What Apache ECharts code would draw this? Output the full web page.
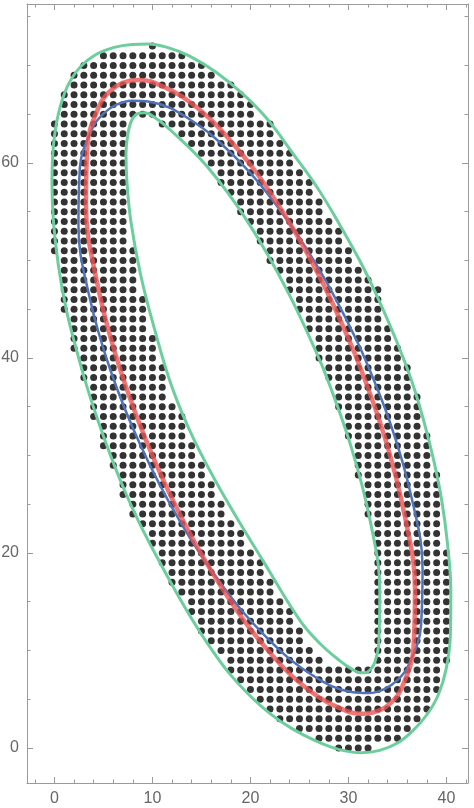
<!DOCTYPE html>
<html>
<head>
<meta charset="utf-8">
<script src="https://cdn.jsdelivr.net/npm/echarts@6/dist/echarts.min.js"></script>
<style>
html, body { margin: 0; padding: 0; background: #fff; }
#chart { width: 474px; height: 808px; }
</style>
</head>
<body>
<div id="chart"></div>
<script>
// lattice rows: [y, xFrom, xTo, (xFrom, xTo)]
const rowSpans = [
    [72, 10, 10],
    [71, 5, 13],
    [70, 3, 15],
    [69, 2, 16],
    [68, 2, 18],
    [67, 1, 19],
    [66, 1, 20],
    [65, 1, 20],
    [64, 0, 7, 11, 22],
    [63, 0, 7, 13, 22],
    [62, 0, 7, 14, 23],
    [61, 0, 7, 15, 24],
    [60, 0, 7, 16, 24],
    [59, 0, 7, 17, 25],
    [58, 0, 7, 17, 26],
    [57, 0, 7, 18, 26],
    [56, 0, 7, 19, 27],
    [55, 0, 7, 19, 27],
    [54, 0, 7, 20, 28],
    [53, 0, 7, 21, 29],
    [52, 0, 7, 21, 29],
    [51, 0, 8, 22, 30],
    [50, 1, 8, 22, 30],
    [49, 1, 8, 23, 31],
    [48, 1, 8, 24, 32],
    [47, 1, 8, 24, 33],
    [46, 1, 9, 25, 33],
    [45, 1, 9, 25, 33],
    [44, 2, 9, 26, 33],
    [43, 2, 9, 26, 34],
    [42, 2, 10, 27, 34],
    [41, 2, 10, 27, 35],
    [40, 3, 10, 27, 35],
    [39, 3, 11, 28, 36],
    [38, 3, 11, 28, 36],
    [37, 4, 11, 29, 36],
    [36, 4, 11, 29, 37],
    [35, 4, 12, 29, 37],
    [34, 4, 13, 30, 37],
    [33, 5, 13, 30, 37],
    [32, 5, 13, 30, 38],
    [31, 5, 14, 31, 38],
    [30, 6, 14, 31, 38],
    [29, 6, 15, 31, 38],
    [28, 7, 15, 31, 39],
    [27, 7, 16, 32, 39],
    [26, 7, 16, 32, 39],
    [25, 8, 17, 32, 39],
    [24, 8, 17, 32, 39],
    [23, 9, 18, 33, 39],
    [22, 10, 19, 33, 39],
    [21, 10, 19, 33, 39],
    [20, 11, 20, 33, 40],
    [19, 11, 21, 33, 40],
    [18, 12, 21, 33, 40],
    [17, 12, 22, 33, 40],
    [16, 13, 22, 33, 40],
    [15, 14, 23, 33, 40],
    [14, 14, 24, 33, 40],
    [13, 15, 24, 33, 40],
    [12, 15, 25, 33, 40],
    [11, 16, 25, 33, 40],
    [10, 17, 26, 33, 40],
    [9, 18, 27, 33, 40],
    [8, 18, 39],
    [7, 19, 39],
    [6, 20, 39],
    [5, 21, 38],
    [4, 22, 38],
    [3, 23, 37],
    [2, 25, 36],
    [1, 27, 35],
    [0, 29, 32]
];

// curves
const outerGreen = [
    [35.0, 41.5], [36.5, 37.5], [37.7, 33.5], [38.7, 29.5], [39.5, 25.5], [40.1, 21.0],
    [40.45, 16.0], [40.4, 11.5], [39.95, 8.0], [39.15, 5.4], [38.0, 3.4], [36.6, 1.8],
    [35.0, 0.5], [33.2, -0.25], [31.3, -0.5], [29.0, -0.15], [26.6, 0.75], [24.2, 2.0],
    [21.9, 3.6], [19.8, 5.5], [17.8, 7.7], [15.9, 10.3], [14.1, 13.1], [12.3, 16.2],
    [10.5, 19.5], [8.8, 22.8], [7.2, 26.3], [5.8, 29.8], [4.5, 33.4], [3.3, 37.1],
    [2.2, 41.0], [1.2, 45.0], [0.4, 49.5], [-0.1, 54.0], [-0.25, 58.0], [-0.1, 61.8],
    [0.4, 65.0], [1.3, 67.8], [2.6, 69.8], [4.2, 71.1], [6.1, 71.85], [7.9, 72.15],
    [9.5, 72.2], [11.5, 71.85], [13.7, 71.0], [16.5, 69.3], [19.3, 67.0], [21.8, 64.4],
    [24.3, 61.0], [26.8, 57.5], [29.2, 53.5], [31.4, 49.5], [33.3, 45.5], [35.0, 41.5]
];
const innerGreen = [
    [27.4, 39.0], [30.3, 30.8], [32.3, 22.9], [33.2, 16.0], [33.1, 10.8], [32.7, 8.8],
    [32.2, 8.0], [31.7, 7.7], [31.2, 7.72], [30.4, 8.05], [29.1, 8.95], [27.2, 10.6],
    [25.1, 13.0], [21.4, 19.0], [17.5, 25.5], [14.3, 31.5], [12.0, 37.0], [10.2, 43.0],
    [8.8, 48.5], [7.8, 54.0], [7.4, 58.0], [7.3, 61.0], [7.5, 63.0], [7.9, 64.4],
    [8.5, 65.05], [9.2, 65.15], [10.1, 64.75], [11.8, 63.4], [15.6, 59.6], [19.7, 54.0],
    [23.75, 46.9], [27.4, 39.0]
];
const redCurve = [
    [30.7, 40.33], [33.71, 31.85], [35.78, 23.65], [36.79, 16.29], [36.64, 10.27], [35.37, 6.01],
    [34.33, 4.63], [33.04, 3.79], [31.53, 3.5], [29.83, 3.77], [25.95, 5.94], [21.66, 10.16],
    [17.26, 16.14], [13.04, 23.48], [9.3, 31.67], [6.29, 40.15], [4.22, 48.35], [3.22, 55.71],
    [3.36, 61.73], [4.63, 65.99], [5.67, 67.37], [6.96, 68.21], [8.47, 68.5], [10.17, 68.23],
    [14.05, 66.06], [18.34, 61.84], [22.74, 55.86], [26.96, 48.52], [30.7, 40.33]
];
const blueCurve = [
    [31.17, 41.09], [34.32, 33.16], [36.5, 25.42], [37.56, 18.4], [37.41, 12.59], [36.09, 8.37],
    [35.0, 6.95], [33.66, 6.03], [32.09, 5.62], [30.31, 5.73], [26.25, 7.5], [21.77, 11.21],
    [17.16, 16.61], [12.75, 23.33], [8.84, 30.91], [5.68, 38.84], [3.5, 46.58], [2.45, 53.6],
    [2.59, 59.41], [3.91, 63.64], [5.0, 65.05], [6.34, 65.97], [7.91, 66.38], [9.69, 66.27],
    [13.75, 64.5], [18.24, 60.79], [22.84, 55.39], [27.25, 48.67], [31.17, 41.09]
];

const xMajorTicks = [0, 10, 20, 30, 40];
const xMinorTicks = [-2, 2, 4, 6, 8, 12, 14, 16, 18, 22, 24, 26, 28, 32, 34, 36, 38, 42];
const yMajorTicks = [0, 20, 40, 60];
const yMinorTicks = [5, 10, 15, 25, 30, 35, 45, 50, 55, 65, 70, 75];

const dots = [];
rowSpans.forEach(function (r) {
    for (let i = 1; i < r.length; i += 2) {
        for (let x = r[i]; x <= r[i + 1]; x++) {
            dots.push([x, r[0]]);
        }
    }
});

const frameColor = "#9a9a9a";
const labelStyle = { color: "#666", fontSize: 16, fontFamily: "Liberation Sans" };

function xAxis(pos, ticks, len, withLine, withLabel) {
    return {
        type: "value", position: pos, min: -2.8, max: 42.2,
        axisLine: { show: withLine, onZero: false, lineStyle: { color: frameColor, width: 1 } },
        axisTick: { show: true, inside: true, length: len, customValues: ticks, lineStyle: { color: frameColor } },
        axisLabel: withLabel ? Object.assign({ customValues: ticks, margin: 8 }, labelStyle) : { show: false },
        splitLine: { show: false }
    };
}
function yAxis(pos, ticks, len, withLine, withLabel) {
    return {
        type: "value", position: pos, min: -3.6, max: 76.3,
        axisLine: { show: withLine, onZero: false, lineStyle: { color: frameColor, width: 1 } },
        axisTick: { show: true, inside: true, length: len, customValues: ticks, lineStyle: { color: frameColor } },
        axisLabel: withLabel ? Object.assign({ customValues: ticks, margin: 8 }, labelStyle) : { show: false },
        splitLine: { show: false }
    };
}

function curve(data, color, width, z) {
    return {
        type: "line", data: data, smooth: 0.4, showSymbol: false, z: z,
        lineStyle: { color: color, width: width }, silent: true
    };
}

const chart = echarts.init(document.getElementById("chart"));
chart.setOption({
    animation: false,
    backgroundColor: "#fff",
    grid: { left: 27, right: 6, top: 4, bottom: 25, outerBoundsMode: "none" },
    xAxis: [
        xAxis("bottom", xMajorTicks, 6, true, true),
        xAxis("bottom", xMinorTicks, 3.5, false, false),
        xAxis("top", xMajorTicks, 6, true, false),
        xAxis("top", xMinorTicks, 3.5, false, false)
    ],
    yAxis: [
        yAxis("left", yMajorTicks, 6, true, true),
        yAxis("left", yMinorTicks, 3.5, false, false),
        yAxis("right", yMajorTicks, 6, true, false),
        yAxis("right", yMinorTicks, 3.5, false, false)
    ],
    series: [
        {
            type: "scatter", data: dots, symbolSize: 7, z: 2,
            itemStyle: { color: "#000" }, silent: true
        },
        curve(outerGreen, "#6cce9c", 3, 3),
        curve(innerGreen, "#6cce9c", 3, 3),
        curve(blueCurve, "#4f72b8", 2.5, 4),
        curve(redCurve, "rgba(236,82,82,0.8)", 4.5, 5)
    ]
});
</script>
</body>
</html>
